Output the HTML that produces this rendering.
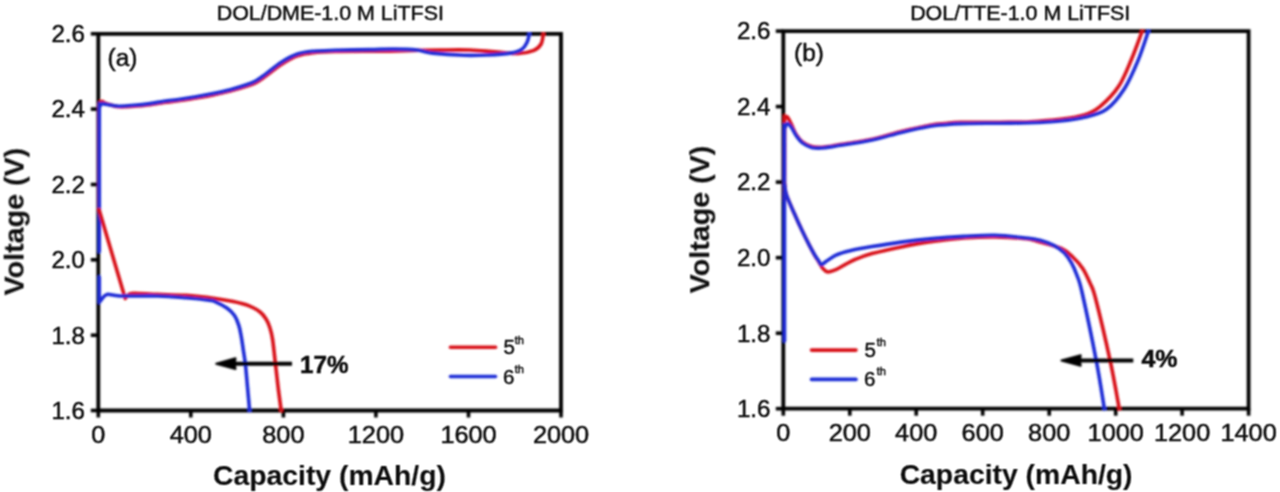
<!DOCTYPE html>
<html><head><meta charset="utf-8"><style>
html,body{margin:0;padding:0;background:#fff;width:1280px;height:492px;overflow:hidden}
svg{display:block}
text{font-family:"Liberation Sans",sans-serif;fill:#111;stroke:#111;stroke-width:0.5px}
.tk{font-size:23px}
.lg{font-size:20.5px}
.sup{font-size:11px}
.pct{font-size:24px;font-weight:bold;stroke-width:0.5px}
.pl{font-size:23.5px}
.ti{font-size:21px}
.ax{font-size:28px;font-weight:bold;stroke-width:0.1px}
</style></head><body>
<svg width="1280" height="492" viewBox="0 0 1280 492">
<defs>
<filter id="bl" filterUnits="userSpaceOnUse" x="0" y="0" width="1280" height="492"><feConvolveMatrix order="5" kernelMatrix="1 4 6 4 1 4 16 24 16 4 6 24 36 24 6 4 16 24 16 4 1 4 6 4 1" divisor="256" edgeMode="none"/></filter>
<filter id="tb" filterUnits="userSpaceOnUse" x="0" y="0" width="1280" height="492"><feConvolveMatrix order="3" kernelMatrix="1 2 1 2 4 2 1 2 1" divisor="16" edgeMode="none"/></filter>
</defs>
<rect width="1280" height="492" fill="#fff"/>
<g filter="url(#bl)">
<path d="M98.3,33.8 H561.0 V410.5 H98.3 Z" fill="none" stroke="#000" stroke-width="3.8"/>
<line x1="98.3" y1="410.5" x2="98.3" y2="417.5" stroke="#000" stroke-width="3.6"/>
<line x1="190.8" y1="410.5" x2="190.8" y2="417.5" stroke="#000" stroke-width="3.6"/>
<line x1="283.4" y1="410.5" x2="283.4" y2="417.5" stroke="#000" stroke-width="3.6"/>
<line x1="375.9" y1="410.5" x2="375.9" y2="417.5" stroke="#000" stroke-width="3.6"/>
<line x1="468.5" y1="410.5" x2="468.5" y2="417.5" stroke="#000" stroke-width="3.6"/>
<line x1="561.0" y1="410.5" x2="561.0" y2="417.5" stroke="#000" stroke-width="3.6"/>
<line x1="90.8" y1="410.5" x2="98.3" y2="410.5" stroke="#000" stroke-width="3.6"/>
<line x1="90.8" y1="335.2" x2="98.3" y2="335.2" stroke="#000" stroke-width="3.6"/>
<line x1="90.8" y1="259.8" x2="98.3" y2="259.8" stroke="#000" stroke-width="3.6"/>
<line x1="90.8" y1="184.5" x2="98.3" y2="184.5" stroke="#000" stroke-width="3.6"/>
<line x1="90.8" y1="109.1" x2="98.3" y2="109.1" stroke="#000" stroke-width="3.6"/>
<line x1="90.8" y1="33.8" x2="98.3" y2="33.8" stroke="#000" stroke-width="3.6"/>
<path d="M783.3,31.1 H1248.6 V408.7 H783.3 Z" fill="none" stroke="#000" stroke-width="3.8"/>
<line x1="783.3" y1="408.7" x2="783.3" y2="415.7" stroke="#000" stroke-width="3.6"/>
<line x1="849.8" y1="408.7" x2="849.8" y2="415.7" stroke="#000" stroke-width="3.6"/>
<line x1="916.2" y1="408.7" x2="916.2" y2="415.7" stroke="#000" stroke-width="3.6"/>
<line x1="982.7" y1="408.7" x2="982.7" y2="415.7" stroke="#000" stroke-width="3.6"/>
<line x1="1049.2" y1="408.7" x2="1049.2" y2="415.7" stroke="#000" stroke-width="3.6"/>
<line x1="1115.7" y1="408.7" x2="1115.7" y2="415.7" stroke="#000" stroke-width="3.6"/>
<line x1="1182.1" y1="408.7" x2="1182.1" y2="415.7" stroke="#000" stroke-width="3.6"/>
<line x1="1248.6" y1="408.7" x2="1248.6" y2="415.7" stroke="#000" stroke-width="3.6"/>
<line x1="775.8" y1="408.7" x2="783.3" y2="408.7" stroke="#000" stroke-width="3.6"/>
<line x1="775.8" y1="333.2" x2="783.3" y2="333.2" stroke="#000" stroke-width="3.6"/>
<line x1="775.8" y1="257.7" x2="783.3" y2="257.7" stroke="#000" stroke-width="3.6"/>
<line x1="775.8" y1="182.1" x2="783.3" y2="182.1" stroke="#000" stroke-width="3.6"/>
<line x1="775.8" y1="106.6" x2="783.3" y2="106.6" stroke="#000" stroke-width="3.6"/>
<line x1="775.8" y1="31.1" x2="783.3" y2="31.1" stroke="#000" stroke-width="3.6"/>
<path d="M99.00,209.00 C99.00,199.17 99.00,166.83 99.00,150.00 C99.00,133.17 98.93,115.67 99.00,108.00 C99.07,100.33 99.15,105.03 99.40,104.00 C99.65,102.97 99.98,102.20 100.50,101.80 C101.02,101.40 101.58,101.33 102.50,101.60 C103.42,101.87 103.35,102.55 106.00,103.40 C108.65,104.25 113.73,106.23 118.40,106.70 C123.07,107.17 128.73,106.55 134.00,106.20 C139.27,105.85 145.00,105.22 150.00,104.60 C155.00,103.98 159.00,103.18 164.00,102.50 C169.00,101.82 174.67,101.25 180.00,100.50 C185.33,99.75 190.48,98.93 196.00,98.00 C201.52,97.07 207.42,96.05 213.10,94.90 C218.78,93.75 224.42,92.57 230.10,91.10 C235.78,89.63 242.88,87.52 247.20,86.10 C251.52,84.68 253.03,84.18 256.00,82.60 C258.97,81.02 260.78,79.63 265.00,76.60 C269.22,73.57 275.88,67.87 281.30,64.40 C286.72,60.93 292.08,57.77 297.50,55.80 C302.92,53.83 307.55,53.33 313.80,52.60 C320.05,51.87 325.63,51.65 335.00,51.40 C344.37,51.15 360.78,51.15 370.00,51.10 C379.22,51.05 381.70,51.23 390.30,51.10 C398.90,50.97 413.27,50.48 421.60,50.30 C429.93,50.12 432.23,50.05 440.30,50.00 C448.37,49.95 460.88,49.68 470.00,50.00 C479.12,50.32 486.93,51.33 495.00,51.90 C503.07,52.47 511.90,53.67 518.40,53.40 C524.90,53.13 530.22,51.87 534.00,50.30 C537.78,48.73 539.53,46.75 541.10,44.00 C542.67,41.25 543.02,35.50 543.40,33.80" fill="none" stroke="#d80f18" stroke-width="3.6" stroke-linejoin="round" stroke-linecap="round"/>
<path d="M99.30,251.50 C99.30,242.92 99.30,223.25 99.30,200.00 C99.30,176.75 99.15,127.67 99.30,112.00 C99.45,96.33 99.70,107.40 100.20,106.00 C100.70,104.60 101.33,103.88 102.30,103.60 C103.27,103.32 103.32,103.87 106.00,104.30 C108.68,104.73 113.73,106.03 118.40,106.20 C123.07,106.37 128.73,105.73 134.00,105.30 C139.27,104.87 145.00,104.27 150.00,103.60 C155.00,102.93 159.00,102.02 164.00,101.30 C169.00,100.58 174.67,100.05 180.00,99.30 C185.33,98.55 190.48,97.75 196.00,96.80 C201.52,95.85 207.42,94.78 213.10,93.60 C218.78,92.42 224.42,91.22 230.10,89.70 C235.78,88.18 242.88,85.98 247.20,84.50 C251.52,83.02 253.03,82.45 256.00,80.80 C258.97,79.15 260.78,77.70 265.00,74.60 C269.22,71.50 275.88,65.63 281.30,62.20 C286.72,58.77 292.08,55.83 297.50,54.00 C302.92,52.17 307.55,51.82 313.80,51.20 C320.05,50.58 325.63,50.57 335.00,50.30 C344.37,50.03 360.27,49.80 370.00,49.60 C379.73,49.40 385.58,49.03 393.40,49.10 C401.22,49.17 410.38,49.33 416.90,50.00 C423.42,50.67 424.69,52.22 432.50,53.10 C440.31,53.98 454.63,54.98 463.75,55.30 C472.87,55.62 479.39,55.37 487.20,55.00 C495.01,54.63 504.87,54.02 510.60,53.10 C516.33,52.18 518.87,51.27 521.60,49.50 C524.33,47.73 525.70,45.12 527.00,42.50 C528.30,39.88 529.00,35.25 529.40,33.80" fill="none" stroke="#1a2cd6" stroke-width="3.6" stroke-linejoin="round" stroke-linecap="round"/>
<path d="M99.00,209.50 L125.20,298.50 C125.75,297.88 127.12,295.68 128.50,294.80 C129.88,293.92 128.67,293.27 133.50,293.20 C138.33,293.13 148.82,294.03 157.50,294.40 C166.18,294.77 176.02,294.72 185.60,295.40 C195.18,296.08 207.05,297.47 215.00,298.50 C222.95,299.53 227.62,300.37 233.30,301.60 C238.98,302.83 244.63,304.17 249.10,305.90 C253.57,307.63 257.25,309.77 260.10,312.00 C262.95,314.23 264.57,316.67 266.20,319.30 C267.83,321.93 268.83,324.43 269.90,327.80 C270.97,331.17 271.67,333.40 272.60,339.50 C273.53,345.60 274.57,356.32 275.50,364.40 C276.43,372.48 277.25,380.32 278.20,388.00 C279.15,395.68 280.70,406.75 281.20,410.50" fill="none" stroke="#d80f18" stroke-width="3.6" stroke-linejoin="round" stroke-linecap="round"/>
<path d="M99.30,277.00 L99.30,302.30 C99.67,301.83 100.22,300.82 101.50,299.50 C102.78,298.18 103.92,294.98 107.00,294.40 C110.08,293.82 111.58,295.73 120.00,296.00 C128.42,296.27 146.57,295.70 157.50,296.00 C168.43,296.30 177.02,297.10 185.60,297.80 C194.18,298.50 204.10,299.57 209.00,300.20 C213.90,300.83 211.97,300.25 215.00,301.60 C218.03,302.95 223.95,305.97 227.20,308.30 C230.45,310.63 232.57,312.75 234.50,315.60 C236.43,318.45 237.68,321.95 238.80,325.40 C239.92,328.85 240.45,332.20 241.20,336.30 C241.95,340.40 242.60,345.32 243.30,350.00 C244.00,354.68 244.70,358.23 245.40,364.40 C246.10,370.57 246.80,379.32 247.50,387.00 C248.20,394.68 249.25,406.58 249.60,410.50" fill="none" stroke="#1a2cd6" stroke-width="3.6" stroke-linejoin="round" stroke-linecap="round"/>
<path d="M784.50,200.00 C784.52,187.33 784.43,137.73 784.60,124.00 C784.77,110.27 785.02,118.72 785.50,117.60 C785.98,116.48 786.58,116.32 787.50,117.30 C788.42,118.28 789.53,120.58 791.00,123.50 C792.47,126.42 794.40,131.73 796.30,134.80 C798.20,137.87 799.85,139.95 802.40,141.90 C804.95,143.85 808.37,145.62 811.60,146.50 C814.83,147.38 817.73,147.40 821.80,147.20 C825.87,147.00 827.63,146.62 836.00,145.30 C844.37,143.98 861.12,141.58 872.00,139.30 C882.88,137.02 891.58,133.93 901.25,131.60 C910.92,129.27 922.88,126.63 930.00,125.30 C937.12,123.97 938.92,124.08 944.00,123.60 C949.08,123.12 951.17,122.63 960.50,122.40 C969.83,122.17 988.42,122.32 1000.00,122.20 C1011.58,122.08 1020.00,122.18 1030.00,121.70 C1040.00,121.22 1050.93,120.43 1060.00,119.30 C1069.07,118.17 1077.73,117.02 1084.40,114.90 C1091.07,112.78 1094.28,111.37 1100.00,106.60 C1105.72,101.83 1113.45,94.18 1118.70,86.30 C1123.95,78.42 1127.58,68.50 1131.50,59.30 C1135.42,50.10 1140.42,35.80 1142.20,31.10" fill="none" stroke="#d80f18" stroke-width="3.6" stroke-linejoin="round" stroke-linecap="round"/>
<path d="M784.50,341.00 C784.50,324.17 784.50,274.33 784.50,240.00 C784.50,205.67 784.37,153.83 784.50,135.00 C784.63,116.17 784.77,128.87 785.30,127.00 C785.83,125.13 786.67,123.72 787.70,123.80 C788.73,123.88 790.07,125.50 791.50,127.50 C792.93,129.50 794.48,133.23 796.30,135.80 C798.12,138.37 799.85,140.97 802.40,142.90 C804.95,144.83 808.37,146.55 811.60,147.40 C814.83,148.25 817.73,148.23 821.80,148.00 C825.87,147.77 827.63,147.33 836.00,146.00 C844.37,144.67 861.12,142.27 872.00,140.00 C882.88,137.73 891.58,134.68 901.25,132.40 C910.92,130.12 922.88,127.57 930.00,126.30 C937.12,125.03 938.92,125.25 944.00,124.80 C949.08,124.35 951.17,123.87 960.50,123.60 C969.83,123.33 988.42,123.33 1000.00,123.20 C1011.58,123.07 1020.00,123.17 1030.00,122.80 C1040.00,122.43 1050.93,121.92 1060.00,121.00 C1069.07,120.08 1076.65,119.25 1084.40,117.30 C1092.15,115.35 1099.83,114.07 1106.50,109.30 C1113.17,104.53 1119.15,96.82 1124.40,88.70 C1129.65,80.58 1134.00,70.20 1138.00,60.60 C1142.00,51.00 1146.67,36.02 1148.40,31.10" fill="none" stroke="#1a2cd6" stroke-width="3.6" stroke-linejoin="round" stroke-linecap="round"/>
<path d="M784.50,184.40 C784.83,186.17 784.88,190.18 786.50,195.00 C788.12,199.82 791.65,207.45 794.20,213.30 C796.75,219.15 799.27,224.75 801.80,230.10 C804.33,235.45 807.20,241.12 809.40,245.40 C811.60,249.68 813.47,253.12 815.00,255.80 C816.53,258.48 817.27,259.37 818.60,261.50 C819.93,263.63 821.43,266.85 823.00,268.60 C824.57,270.35 825.83,271.83 828.00,272.00 C830.17,272.17 833.17,270.83 836.00,269.60 C838.83,268.37 841.83,266.28 845.00,264.60 C848.17,262.92 850.50,261.33 855.00,259.50 C859.50,257.67 864.29,255.70 872.00,253.60 C879.71,251.50 891.17,248.93 901.25,246.90 C911.33,244.87 922.08,242.88 932.50,241.40 C942.92,239.92 953.33,238.75 963.75,238.00 C974.17,237.25 984.58,236.78 995.00,236.90 C1005.42,237.03 1018.75,237.88 1026.25,238.75 C1033.75,239.62 1034.16,240.47 1040.00,242.10 C1045.84,243.72 1055.85,246.02 1061.30,248.50 C1066.75,250.98 1069.13,253.68 1072.70,257.00 C1076.27,260.32 1079.85,264.13 1082.70,268.40 C1085.55,272.67 1087.67,277.63 1089.80,282.60 C1091.93,287.57 1092.08,285.07 1095.50,298.20 C1098.92,311.33 1106.33,342.95 1110.30,361.40 C1114.27,379.85 1117.80,400.98 1119.30,408.90" fill="none" stroke="#d80f18" stroke-width="3.6" stroke-linejoin="round" stroke-linecap="round"/>
<path d="M784.50,184.40 C784.83,186.17 784.88,190.18 786.50,195.00 C788.12,199.82 791.65,207.45 794.20,213.30 C796.75,219.15 799.27,224.75 801.80,230.10 C804.33,235.45 807.20,241.17 809.40,245.40 C811.60,249.63 813.47,252.93 815.00,255.50 C816.53,258.07 817.55,259.28 818.60,260.80 C819.65,262.32 820.07,264.48 821.30,264.60 C822.53,264.72 823.55,263.07 826.00,261.50 C828.45,259.93 832.00,256.98 836.00,255.20 C840.00,253.42 844.00,252.23 850.00,250.80 C856.00,249.37 863.46,248.05 872.00,246.60 C880.54,245.15 891.17,243.43 901.25,242.10 C911.33,240.77 922.08,239.55 932.50,238.60 C942.92,237.65 953.33,236.95 963.75,236.40 C974.17,235.85 984.58,235.03 995.00,235.30 C1005.42,235.57 1018.75,237.17 1026.25,238.00 C1033.75,238.83 1035.34,239.03 1040.00,240.30 C1044.66,241.57 1050.17,243.53 1054.20,245.60 C1058.23,247.67 1061.35,249.85 1064.20,252.70 C1067.05,255.55 1069.17,258.90 1071.30,262.70 C1073.43,266.50 1075.18,270.45 1077.00,275.50 C1078.82,280.55 1078.97,278.68 1082.20,293.00 C1085.43,307.32 1092.70,342.08 1096.40,361.40 C1100.10,380.72 1103.07,400.98 1104.40,408.90" fill="none" stroke="#1a2cd6" stroke-width="3.6" stroke-linejoin="round" stroke-linecap="round"/>
<line x1="450.5" y1="347.3" x2="495.5" y2="347.3" stroke="#d80f18" stroke-width="3.6" stroke-linecap="round"/>
<line x1="450.5" y1="376.5" x2="495.5" y2="376.5" stroke="#1a2cd6" stroke-width="3.6" stroke-linecap="round"/>
<line x1="811.5" y1="350.1" x2="856" y2="350.1" stroke="#d80f18" stroke-width="3.6" stroke-linecap="round"/>
<line x1="811.5" y1="379.4" x2="856" y2="379.4" stroke="#1a2cd6" stroke-width="3.6" stroke-linecap="round"/>
<line x1="234.3" y1="363.7" x2="292.0" y2="363.7" stroke="#000" stroke-width="4"/><path d="M216.2,363.7 L235.5,358.3 Q234.1,363.7 235.5,369.1 Z" fill="#000" stroke="#000" stroke-width="2" stroke-linejoin="round"/>
<line x1="1079.5" y1="360.5" x2="1133.3" y2="360.5" stroke="#000" stroke-width="4"/><path d="M1061.4,360.5 L1080.7,355.2 Q1079.3,360.5 1080.7,365.8 Z" fill="#000" stroke="#000" stroke-width="2" stroke-linejoin="round"/>
</g>
<g filter="url(#tb)">
<text transform="translate(98.3,442.5) scale(1.1,1)" text-anchor="middle" class="tk">0</text>
<text transform="translate(190.8,442.5) scale(1.1,1)" text-anchor="middle" class="tk">400</text>
<text transform="translate(283.4,442.5) scale(1.1,1)" text-anchor="middle" class="tk">800</text>
<text transform="translate(375.9,442.5) scale(1.1,1)" text-anchor="middle" class="tk">1200</text>
<text transform="translate(468.5,442.5) scale(1.1,1)" text-anchor="middle" class="tk">1600</text>
<text transform="translate(561.0,442.5) scale(1.1,1)" text-anchor="middle" class="tk">2000</text>
<text transform="translate(85.0,418.8) scale(1.05,1)" text-anchor="end" class="tk">1.6</text>
<text transform="translate(85.0,343.5) scale(1.05,1)" text-anchor="end" class="tk">1.8</text>
<text transform="translate(85.0,268.1) scale(1.05,1)" text-anchor="end" class="tk">2.0</text>
<text transform="translate(85.0,192.8) scale(1.05,1)" text-anchor="end" class="tk">2.2</text>
<text transform="translate(85.0,117.4) scale(1.05,1)" text-anchor="end" class="tk">2.4</text>
<text transform="translate(85.0,42.1) scale(1.05,1)" text-anchor="end" class="tk">2.6</text>
<text transform="translate(783.3,441.0) scale(1.1,1)" text-anchor="middle" class="tk">0</text>
<text transform="translate(849.8,441.0) scale(1.1,1)" text-anchor="middle" class="tk">200</text>
<text transform="translate(916.2,441.0) scale(1.1,1)" text-anchor="middle" class="tk">400</text>
<text transform="translate(982.7,441.0) scale(1.1,1)" text-anchor="middle" class="tk">600</text>
<text transform="translate(1049.2,441.0) scale(1.1,1)" text-anchor="middle" class="tk">800</text>
<text transform="translate(1115.7,441.0) scale(1.1,1)" text-anchor="middle" class="tk">1000</text>
<text transform="translate(1182.1,441.0) scale(1.1,1)" text-anchor="middle" class="tk">1200</text>
<text transform="translate(1248.6,441.0) scale(1.1,1)" text-anchor="middle" class="tk">1400</text>
<text transform="translate(770.5,417.0) scale(1.05,1)" text-anchor="end" class="tk">1.6</text>
<text transform="translate(770.5,341.5) scale(1.05,1)" text-anchor="end" class="tk">1.8</text>
<text transform="translate(770.5,266.0) scale(1.05,1)" text-anchor="end" class="tk">2.0</text>
<text transform="translate(770.5,190.4) scale(1.05,1)" text-anchor="end" class="tk">2.2</text>
<text transform="translate(770.5,114.9) scale(1.05,1)" text-anchor="end" class="tk">2.4</text>
<text transform="translate(770.5,39.4) scale(1.05,1)" text-anchor="end" class="tk">2.6</text>
<text x="503.6" y="354.2" class="lg">5</text>
<text x="514.8" y="343.9" class="sup">th</text>
<text x="503" y="383.5" class="lg">6</text>
<text x="514.8" y="373.2" class="sup">th</text>
<text x="864.6" y="356.9" class="lg">5</text>
<text x="876.8" y="346.3" class="sup">th</text>
<text x="864" y="385.9" class="lg">6</text>
<text x="876.8" y="375.3" class="sup">th</text>
<text transform="translate(300,372.8) scale(1.01,1)" class="pct">17%</text>
<text transform="translate(1141.5,367.3) scale(1.04,1)" class="pct">4%</text>
<text transform="translate(107.5,65.5) scale(1.04,1)" class="pl">(a)</text>
<text transform="translate(794,61) scale(1.04,1)" class="pl">(b)</text>
<text transform="translate(330.3,19.5) scale(1.02,1)" text-anchor="middle" class="ti">DOL/DME-1.0 M LiTFSI</text>
<text transform="translate(1020.2,19.5) scale(1.02,1)" text-anchor="middle" class="ti">DOL/TTE-1.0 M LiTFSI</text>
<text transform="translate(329.5,484.5) scale(1.012,1)" text-anchor="middle" class="ax">Capacity (mAh/g)</text>
<text transform="translate(1016.1,484) scale(1.012,1)" text-anchor="middle" class="ax">Capacity (mAh/g)</text>
<text transform="translate(23.6,221.6) rotate(-90) scale(1.025,1)" text-anchor="middle" class="ax">Voltage (V)</text>
<text transform="translate(709.2,219.5) rotate(-90) scale(1.025,1)" text-anchor="middle" class="ax">Voltage (V)</text>
</g>
</svg>
</body></html>
